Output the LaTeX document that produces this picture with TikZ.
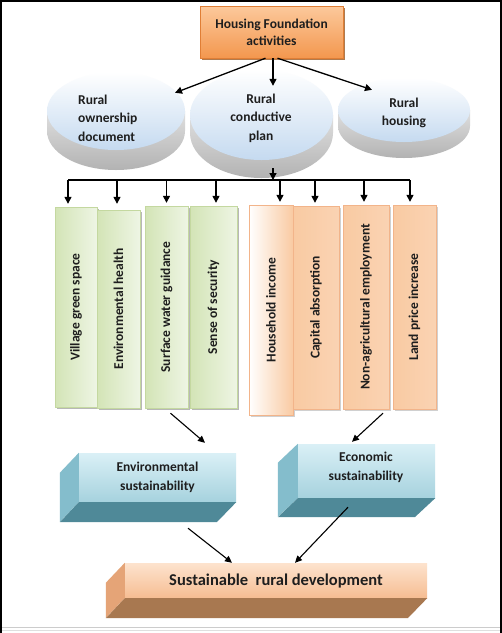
\documentclass[tikz,border=0pt]{standalone}
\usepackage{fontspec}
\setmainfont{Carlito}
\usetikzlibrary{shapes.geometric,arrows.meta,shadows}
\definecolor{txtc}{HTML}{1E1E1E}
\definecolor{orgA}{HTML}{FCC99C}
\definecolor{orgB}{HTML}{F3974E}
\definecolor{orgD}{HTML}{E07E35}
\definecolor{orgS}{HTML}{9C5A24}
\definecolor{cylT}{HTML}{C5DAF0}
\definecolor{grnL}{HTML}{D3E4B6}
\definecolor{grnR}{HTML}{EEF5E4}
\definecolor{grnD}{HTML}{C4D8A0}
\definecolor{oraL}{HTML}{F9CAA2}
\definecolor{oraM}{HTML}{FDEADB}
\definecolor{oraR}{HTML}{FAD3B3}
\definecolor{oraD}{HTML}{F2B48A}
\definecolor{envT}{HTML}{DAF0F6}
\definecolor{envB}{HTML}{A6D2DE}
\definecolor{envL}{HTML}{84BDCC}
\definecolor{envD}{HTML}{4F8998}
\definecolor{botT}{HTML}{FDE3CE}
\definecolor{botB}{HTML}{F6BD92}
\definecolor{botL}{HTML}{E5A477}
\definecolor{botD}{HTML}{A87850}
\begin{document}
\begin{tikzpicture}[x=1pt,y=-1pt,
  font=\fontsize{13.5}{18.5}\selectfont\bfseries,
  arr/.style={-{Triangle[length=7pt,width=7pt]}, line width=1.3pt, draw=black},
  thinarr/.style={-{Triangle[length=7pt,width=6.5pt]}, line width=1.1pt, draw=black},
  topbox/.style={draw=orgD, top color=orgA, bottom color=orgB, minimum width=143pt,
    minimum height=52pt, inner sep=0pt, align=center, text=txtc,
    font=\fontsize{13.5}{17}\selectfont\bfseries,
    drop shadow={shadow xshift=2pt, shadow yshift=-2pt, fill=orgS, opacity=0.8}},
  cyltop/.style={ellipse, top color=white, bottom color=cylT, inner sep=0pt},
  cylside/.style={top color=gray!25, bottom color=gray!60},
  ctext/.style={text=txtc, inner sep=0pt},
  gbox/.style={draw=grnD, left color=grnL, right color=grnR, inner sep=0pt, text=txtc,
    drop shadow={shadow xshift=2pt, shadow yshift=-2pt, fill=gray!70, opacity=0.8}},
  obox/.style={draw=oraD, left color=oraL, middle color=oraM, right color=oraR, inner sep=0pt, text=txtc,
    drop shadow={shadow xshift=2pt, shadow yshift=-2pt, fill=gray!60, opacity=0.6}},
  envfront/.style={top color=envT, bottom color=envB, inner sep=0pt, align=center, text=txtc,
    font=\fontsize{13.5}{19}\selectfont\bfseries},
  botfront/.style={top color=botT, bottom color=botB, inner sep=0pt, align=center, text=txtc,
    font=\fontsize{16.5}{19}\selectfont\bfseries}
]
\useasboundingbox (0,0) rectangle (502,633);
\fill[white] (0,0) rectangle (502,633);
% frame
\draw[line width=2pt] (1,633) -- (1,1) -- (501,1) -- (501,633);
\draw[gray!40, line width=1.2pt] (2,627.5) -- (500,627.5);
\draw[gray!25, line width=1pt] (2,630.5) -- (500,630.5);

% top box
\node[topbox] (top) at (271.5,32) {Housing Foundation\\activities};

% cylinders
\path[cylside] (47,111) -- (47,131) arc[start angle=180, end angle=0, x radius=69, y radius=39] -- (185,111) -- cycle;
\node[cyltop, minimum width=138pt, minimum height=78pt] (cyl1) at (116,111) {};
\node[ctext, anchor=west, align=left] (t1) at (78,118) {Rural\\ownership\\document};

\path[cylside] (190,115) -- (190,133) arc[start angle=180, end angle=0, x radius=71.5, y radius=45] -- (333,115) -- cycle;
\node[cyltop, minimum width=143pt, minimum height=90pt] (cyl2) at (261.5,115) {};
\node[ctext, align=center] (t2) at (261,118) {Rural\\conductive\\plan};

\path[cylside] (338,110) -- (338,126) arc[start angle=180, end angle=0, x radius=66, y radius=32] -- (470,110) -- cycle;
\node[cyltop, minimum width=132pt, minimum height=64pt] (cyl3) at (404,110) {};
\node[ctext, align=center] (t3) at (404,113) {Rural\\housing};

% top arrows
\draw[arr] ([shift={(-6,0)}]top.south) -- ([shift={(59,21)}]cyl1.north);
\draw[arr] ([shift={(1.5,0)}]top.south) -- ([shift={(11.5,16)}]cyl2.north);
\draw[arr] ([shift={(6,0)}]top.south) -- ([shift={(-32,12)}]cyl3.north);

% vertical boxes
\node[gbox, minimum width=42pt, minimum height=200pt] (g1) at (76,307) {\rotatebox{90}{Village green space}};
\node[gbox, minimum width=43pt, minimum height=198pt] (g2) at (118.5,309) {\rotatebox{90}{Environmental health}};
\node[gbox, minimum width=43pt, minimum height=202pt] (g3) at (166.5,307) {\rotatebox{90}{Surface water guidance}};
\node[gbox, minimum width=47pt, minimum height=202pt] (g4) at (213.5,307) {\rotatebox{90}{Sense of security}};
\node[obox, left color=white, middle color=oraM, right color=oraL, minimum width=44pt, minimum height=210pt] (o1) at (271,310) {\rotatebox{90}{Household income}};
\node[obox, minimum width=46pt, minimum height=203pt] (o2) at (316,307.5) {\rotatebox{90}{Capital absorption}};
\node[obox, minimum width=46pt, minimum height=204pt] (o3) at (366,307) {\rotatebox{90}{Non-agricultural employment}};
\node[obox, minimum width=43pt, minimum height=204pt] (o4) at (414.5,307) {\rotatebox{90}{Land price increase}};

% bus
\coordinate (bl) at (68,180);
\coordinate (br) at (410,180);
\coordinate (c2b) at (273,168);
\draw[line width=1.3pt] (bl) -- (br);
\draw[arr] (c2b) -- (c2b |- bl);
\draw[arr] ([xshift=-8pt]g1.north |- bl) -- ([xshift=-8pt,yshift=3pt]g1.north);
\draw[arr] ([xshift=-1.5pt]g2.north |- bl) -- ([xshift=-1.5pt,yshift=6pt]g2.north);
\draw[arr] (g3.north |- bl) -- ([yshift=3pt]g3.north);
\draw[arr] ([xshift=2.5pt]g4.north |- bl) -- ([xshift=2.5pt,yshift=3pt]g4.north);
\draw[arr] ([xshift=9pt]o1.north |- bl) -- ([xshift=9pt,yshift=3pt]o1.north);
\draw[arr] ([xshift=-1pt]o2.north |- bl) -- ([xshift=-1pt,yshift=3pt]o2.north);
\draw[arr] ([xshift=-2pt]o3.north |- bl) -- ([xshift=-2pt,yshift=3pt]o3.north);
\draw[arr] ([xshift=-4.5pt]o4.north |- bl) -- ([xshift=-4.5pt,yshift=3pt]o4.north);

% environmental box
\node[envfront, minimum width=157pt, minimum height=49pt] (env) at (157.5,477.5) {Environmental\\sustainability};
\fill[envL] (env.north west) -- ++(-19,20) -- ++(0,49) -- (env.south west) -- cycle;
\fill[envD] (env.south west) -- ++(-19,20) -- ++(157,0) -- (env.south east) -- cycle;

% economic box
\node[envfront, minimum width=137pt, minimum height=54pt] (econ) at (366.5,471) {};
\node[ctext, align=center, font=\fontsize{13.5}{19}\selectfont\bfseries] (econt) at (366,467.5) {Economic\\sustainability};
\fill[envL] (econ.north west) -- ++(-20,19) -- ++(0,54) -- (econ.south west) -- cycle;
\fill[envD] (econ.south west) -- ++(-20,19) -- ++(137,0) -- (econ.south east) -- cycle;

% bottom box
\node[botfront, minimum width=302pt, minimum height=35pt] (bot) at (276,580.5) {Sustainable\ \ rural development};
\fill[botL] (bot.north west) -- ++(-19,20) -- ++(0,35) -- (bot.south west) -- cycle;
\fill[botD] (bot.south west) -- ++(-19,20) -- ++(302,0) -- (bot.south east) -- cycle;

% lower arrows
\draw[thinarr] ([shift={(4,5)}]g3.south) -- ([shift={(47.5,-10)}]env.north);
\draw[thinarr] ([shift={(17,4)}]o3.south) -- ([shift={(-14.5,-2)}]econ.north);
\draw[thinarr] ([shift={(30.5,26)}]env.south) -- ([shift={(-44,0)}]bot.north);
\draw[thinarr] ([shift={(-18.5,9)}]econ.south) -- ([shift={(19,0)}]bot.north);
\end{tikzpicture}
\end{document}
